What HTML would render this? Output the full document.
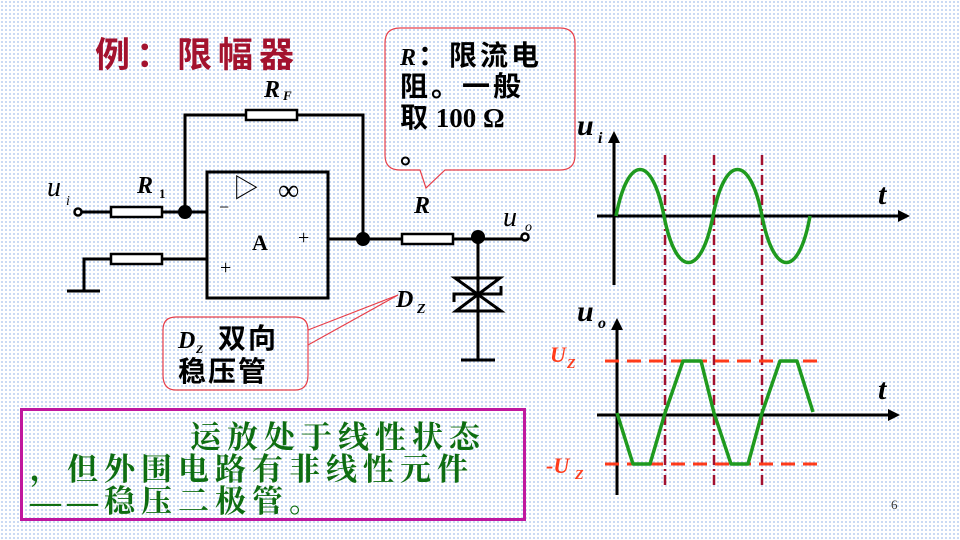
<!DOCTYPE html>
<html><head><meta charset="utf-8"><style>
html,body{margin:0;padding:0}
body{width:960px;height:540px;overflow:hidden;background:#fff;background-image:radial-gradient(circle,#b9cdf0 0.8px,transparent 1px);background-size:4px 4px}
svg{position:absolute;left:0;top:0}
text{font-family:"Liberation Serif","Noto Serif CJK SC",serif}
.cj{font-family:"Liberation Sans","Noto Sans CJK SC",sans-serif;font-weight:bold}
</style></head><body>
<svg width="960" height="540" viewBox="0 0 960 540">
<text x="95" y="67" class="cj" font-size="35" letter-spacing="6" fill="#a3122e">例：限幅器</text>
<g stroke="#000" stroke-width="3" fill="none">
<path d="M185 212V115H363V239"/>
<path d="M78 212H207"/>
<path d="M84 291V259H207"/>
<path d="M67 291H100"/>
<path d="M328 239H525"/>
<path d="M478 239V360M461 360H495"/>
<rect x="207" y="172" width="121" height="126"/>
</g>
<g stroke="#000" stroke-width="2.5" fill="#fff">
<rect x="246" y="110" width="51" height="10"/>
<rect x="111" y="207" width="51" height="10"/>
<rect x="111" y="254" width="51" height="10"/>
<rect x="402" y="234" width="51" height="10"/>
<circle cx="78" cy="212" r="3.5"/>
<circle cx="525" cy="237" r="3.5"/>
</g>
<g fill="#000"><circle cx="185" cy="212" r="7"/><circle cx="363" cy="239" r="7"/><circle cx="478" cy="237" r="7"/></g>
<g stroke="#000" stroke-width="3" fill="none">
<path d="M455 278H500L456 311H501Z"/>
<path d="M454 302V294H501V286"/>
</g>
<text x="264" y="97" font-size="24" font-weight="bold" font-style="italic">R</text><text x="283" y="100" font-size="13" font-weight="bold" font-style="italic">F</text>
<text x="137" y="193" font-size="24" font-weight="bold" font-style="italic">R</text><text x="159" y="198" font-size="13" font-weight="bold">1</text>
<text x="47" y="196" font-size="28" font-style="italic">u</text><text x="66" y="205" font-size="14" font-style="italic">i</text>
<text x="233" y="197" font-size="26" font-family="DejaVu Sans">▷</text>
<text x="278" y="200" font-size="30">∞</text>
<text x="219" y="213" font-size="18">−</text>
<text x="252" y="250" font-size="22" font-weight="bold">A</text>
<text x="298" y="244" font-size="20">+</text>
<text x="220" y="274" font-size="20">+</text>
<text x="414" y="213" font-size="24" font-weight="bold" font-style="italic">R</text>
<text x="503" y="226" font-size="28" font-style="italic">u</text><text x="525" y="231" font-size="14" font-style="italic">o</text>
<text x="396" y="307" font-size="24" font-weight="bold" font-style="italic">D</text><text x="417" y="313" font-size="14" font-weight="bold" font-style="italic">Z</text>
<!-- callout 1 -->
<path d="M400 28H560Q575 28 575 43V155Q575 170 560 170H445L426 188L420 170H400Q385 170 385 155V43Q385 28 400 28Z" fill="none" stroke="#e8404a" stroke-width="1.2"/>
<text x="400" y="65" font-size="24" font-weight="bold" font-style="italic">R</text>
<text x="418" y="65" class="cj" font-size="28" letter-spacing="3">：限流电</text>
<text x="400" y="96" class="cj" font-size="28" letter-spacing="3">阻。一般</text>
<text x="400" y="127" class="cj" font-size="28">取 <tspan font-family="Liberation Serif" font-size="27">100 Ω</tspan></text>
<text x="400" y="163" class="cj" font-size="28">。</text>
<!-- callout 2 -->
<path d="M176 317H295Q308 317 308 330V375Q308 390 295 390H176Q163 390 163 375V330Q163 317 176 317Z" fill="none" stroke="#e8404a" stroke-width="1.2"/>
<path d="M308 330L398 295L308 345" fill="none" stroke="#e8404a" stroke-width="1.2"/>
<text x="178" y="348" font-size="24" font-weight="bold" font-style="italic">D</text><text x="196" y="353" font-size="12" font-weight="bold" font-style="italic">Z</text>
<text x="218" y="348" class="cj" font-size="28" letter-spacing="2">双向</text>
<text x="178" y="381" class="cj" font-size="28" letter-spacing="2">稳压管</text>
<!-- charts -->
<g stroke="#a01030" stroke-width="2.5" stroke-dasharray="10 4 2 4">
<path d="M665 155V485M714 155V485M762 155V485"/>
</g>
<g stroke="#000" stroke-width="3" fill="none">
<path d="M614 285V140M597 216H900M617 495V326M597 415H890"/>
</g>
<g fill="#000"><path d="M614 131L608 143H620Z"/><path d="M910 216L898 210V222Z"/><path d="M617 318L611 330H623Z"/><path d="M900 415L888 409V421Z"/></g>
<g stroke="#ff3b1a" stroke-width="3" stroke-dasharray="14 8" fill="none">
<path d="M605 361H818M605 464H818"/>
</g>
<path d="M616 216C628 154 652 154 664 216S701 278 713 216S750 154 762 216S799 278 810 216" stroke="#1f9a1f" stroke-width="3.5" fill="none"/>
<path d="M617 413L633 464H650L665 413L683 361H701L714 413L731 464H748L762 413L780 361H797L813 412" stroke="#1f9a1f" stroke-width="3.5" fill="none" stroke-linejoin="round"/>
<text x="577" y="135" font-size="30" font-weight="bold" font-style="italic">u</text><text x="598" y="143" font-size="16" font-weight="bold" font-style="italic">i</text>
<text x="577" y="321" font-size="30" font-weight="bold" font-style="italic">u</text><text x="598" y="328" font-size="16" font-weight="bold" font-style="italic">o</text>
<text x="878" y="204" font-size="30" font-weight="bold" font-style="italic">t</text>
<text x="878" y="399" font-size="30" font-weight="bold" font-style="italic">t</text>
<text x="550" y="362" font-size="22" font-weight="bold" font-style="italic" fill="#ff3b1a">U</text><text x="567" y="368" font-size="14" font-weight="bold" font-style="italic" fill="#ff3b1a">Z</text>
<text x="546" y="473" font-size="22" font-weight="bold" font-style="italic" fill="#ff3b1a">-U</text><text x="575" y="479" font-size="14" font-weight="bold" font-style="italic" fill="#ff3b1a">Z</text>
<!-- bottom box -->
<rect x="21.5" y="409.5" width="503" height="110" fill="none" stroke="#c0189e" stroke-width="3"/>
<g class="cj" font-size="31" letter-spacing="6" fill="#0f6e12">
<text x="190" y="448">运放处于线性状态</text>
<text x="30" y="480">，但外围电路有非线性元件</text>
<text x="30" y="512">——稳压二极管。</text>
</g>
<text x="891" y="509" font-family="Liberation Sans" font-size="13" fill="#333">6</text>
</svg>
</body></html>
